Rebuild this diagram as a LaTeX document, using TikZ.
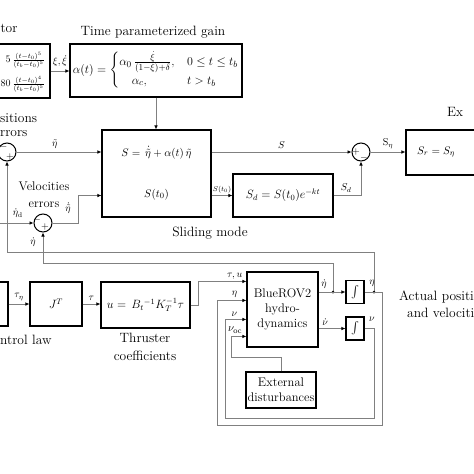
\documentclass[tikz,border=0pt]{standalone}
\usepackage{amsmath}
\usetikzlibrary{arrows.meta,calc}

\tikzset{
  block/.style={draw, line width=1.1pt, inner sep=2pt, align=center, font=\fontsize{11.5}{13.5}\selectfont},
  sig/.style={draw=gray, line width=0.7pt, -{Latex[length=4pt,width=3.5pt,color=black]}},
  sumj/.style={circle, draw, line width=1pt, minimum size=18pt, inner sep=0pt},
  title/.style={font=\fontsize{13.5}{16}\selectfont, inner sep=0pt},
  lab/.style={font=\fontsize{10}{12}\selectfont, inner sep=1pt},
  sgn/.style={font=\fontsize{10}{12}\selectfont, inner sep=0pt}
}

\begin{document}
\begin{tikzpicture}[x=1pt, y=-1pt]
    \useasboundingbox (0,0) rectangle (474,474);
    \clip (0,0) rectangle (474,474);

    % Titles
    \node[title] at (9,28) {tor};
    \node[title] at (153,32) {Time parameterized gain};
    \node[title, anchor=west] at (0,118) {sitions};
    \node[title, anchor=west] at (0,134) {rrors};
    \node[title, align=center, font=\fontsize{12.5}{17}\selectfont] at (44,195) {Velocities\\errors};
    \node[title] at (210,233) {Sliding mode};
    \node[title, anchor=west] at (447,112) {Ex};
    \node[title, anchor=west] at (0,340) {ntrol law};
    \node[title, align=center, font=\fontsize{13.5}{18}\selectfont] at (145,347) {Thruster\\coefficients};
    \node[title, anchor=west] at (399,297) {Actual positi};
    \node[title, anchor=west] at (407,313) {and velociti};

    % Blocks
    \node[block, minimum width=110pt, minimum height=54pt] (gen) at (-5,71) {};
    \node[lab, anchor=east, font=\fontsize{10}{12}\selectfont] at (46,60) {$5\,\frac{(t-t_0)^5}{(t_b-t_0)^5}$};
    \node[lab, anchor=east, font=\fontsize{10}{12}\selectfont] at (46,84) {$80\,\frac{(t-t_0)^4}{(t_b-t_0)^5}$};
    \node[block, minimum width=172pt, minimum height=53pt, font=\fontsize{12.5}{14}\selectfont] (gain) at (156,70.5)
        {$\alpha(t)=\begin{cases}\alpha_0\,\frac{\dot\xi}{(1-\xi)+\delta}, & 0\le t\le t_b\\ \quad\alpha_c, & t>t_b\end{cases}$};
    \node[block, minimum width=109pt, minimum height=87pt] (sm) at (156.5,173.5) {};
    \node[lab, font=\fontsize{11}{13}\selectfont] at ($(sm.north)+(0,23)$) {$S=\,\dot{\tilde\eta}+\alpha(t)\,\tilde\eta$};
    \node[lab, font=\fontsize{11}{13}\selectfont] at ($(sm.north)+(0,65)$) {$S(t_0)$};
    \node[block, minimum width=100pt, minimum height=43pt] (sd) at (283,195.5) {$S_d=S(t_0)e^{-kt}$};
    \node[block, minimum width=114pt, minimum height=45pt] (sr) at (463,152.5) {};
    \node[lab, anchor=west, font=\fontsize{11}{13}\selectfont] at (416,152) {$S_r=S_\eta$};
    \node[block, minimum width=58pt, minimum height=44pt] (ctrl) at (-21,304) {};
    \node[block, minimum width=52pt, minimum height=44pt] (jt) at (56,304) {$J^T$};
    \node[block, minimum width=89pt, minimum height=46pt] (thr) at (145.5,305) {$u=\,B_t{}^{-1}K_T^{-1}\tau$};
    \node[block, minimum width=71pt, minimum height=75pt, font=\fontsize{12.5}{15}\selectfont] (hyd) at (282.5,309.5) {BlueROV2\\hydro-\\dynamics};
    \node[block, minimum width=18pt, minimum height=23pt, inner sep=0pt] (int1) at (355,292) {$\int$};
    \node[block, minimum width=18pt, minimum height=23pt, inner sep=0pt] (int2) at (355,328.5) {$\int$};
    \node[block, minimum width=70pt, minimum height=36pt, inner sep=1pt, font=\fontsize{12.5}{15}\selectfont] (ext) at (281,390) {External\\disturbances};

    % Summing junctions
    \node[sumj] (s1) at (7,152) {};
    \node[sgn] at (3.5,147) {$-$};
    \node[sgn] at (10,157) {$+$};
    \node[sumj] (s2) at (43,223) {};
    \node[sgn] at (37,220) {$-$};
    \node[sgn] at (45,227) {$+$};
    \node[sumj] (s3) at (361,152) {};
    \node[sgn] at (356,152) {$+$};
    \node[sgn] at (364,158) {$-$};

    % Ports of the hydrodynamics block
    \coordinate (hTau) at ($(hyd.north west)+(0,10)$);
    \coordinate (hEta) at ($(hyd.north west)+(0,29)$);
    \coordinate (hNu) at ($(hyd.north west)+(0,48)$);
    \coordinate (hNoc) at ($(hyd.north west)+(0,65)$);
    \coordinate (bEtad) at (333,292);
    \coordinate (bEta) at (374,292);
    \coordinate (vd) at (-10,223);

    % Signals of the upper part
    \draw[sig] (gen.east) -- (gen.east -| gain.west) node[lab, midway, above=3pt] {$\xi,\dot\xi$};
    \draw[sig] (gain.south) -- (gain.south |- sm.north);
    \draw[sig] (s1.east) -- (s1 -| sm.west) node[lab, pos=0.45, above=2pt] {$\tilde\eta$};
    \draw[sig] (vd) -- (s2.west) node[lab, pos=0.64, above=4pt] {$\dot\eta_{\mathrm{d}}$};
    \draw[sig] (s2.east) -- ++(26,0) |- (sm.west |- sd.west);
    \node[lab] at (68,208) {$\dot{\tilde\eta}$};
    \draw[sig] (sm.east |- sd.west) -- (sd.west) node[lab, midway, above=1pt, font=\fontsize{7}{8}\selectfont] {$S(t_0)$};
    \draw[sig] (sm.east |- s3) -- (s3.west) node[lab, midway, above=2pt] {$S$};
    \draw[sig] (sd.east) -| (s3.south) node[lab, pos=0.23, above=2pt] {$S_d$};
    \draw[sig] (s3.east) -- (s3 -| sr.west) node[lab, midway, above=2pt] {$\mathrm{S}_\eta$};

    % Feedback of the actual states
    \draw[sig] (bEta) -- ++(0,-40) -| (s1.south);
    \draw[sig] (bEtad) -- ++(0,-29) -| (s2.south);
    \node[lab] at (33,242) {$\dot\eta$};
    \fill (bEta) circle (1.5pt);
    \fill (bEtad) circle (1.5pt);

    % Signals of the lower part
    \draw[sig] (ctrl.east) -- (jt.west) node[lab, midway, above=2pt] {$\tau_\eta$};
    \draw[sig] (jt.east) -- (jt.east -| thr.west) node[lab, midway, above=2pt] {$\tau$};
    \draw[sig] (thr.east) -- ++(8,0) |- (hTau);
    \draw[sig] (hyd.east |- int1) -- (int1.west) node[lab, pos=0.2, above=2pt] {$\dot\eta$};
    \draw[sig] (hyd.east |- int2) -- (int2.west) node[lab, pos=0.25, above=2pt] {$\dot\nu$};
    \draw[sig] (int1.east) -- ++(18,0) |- (217,425) |- (hEta);
    \draw[sig] (int2.east) -- ++(10,0) |- (225,418) |- (hNu);
    \draw[sig] (ext.north) -- ++(0,-14) -| ($(hNoc)+(-15,0)$) -- (hNoc);
    \node[lab] at (372,283) {$\eta$};
    \node[lab] at (372,319) {$\nu$};

    % Input labels of the hydrodynamics block
    \node[lab, anchor=south east] at ($(hTau)+(-3,-1)$) {$\tau,u$};
    \node[lab, anchor=south east] at ($(hEta)+(-8,-2)$) {$\eta$};
    \node[lab, anchor=south east] at ($(hNu)+(-8,-2)$) {$\nu$};
    \node[lab, anchor=south east, font=\fontsize{11}{13}\selectfont] at ($(hNoc)+(-3,-2)$) {$\nu_{\mathrm{oc}}$};
\end{tikzpicture}
\end{document}
